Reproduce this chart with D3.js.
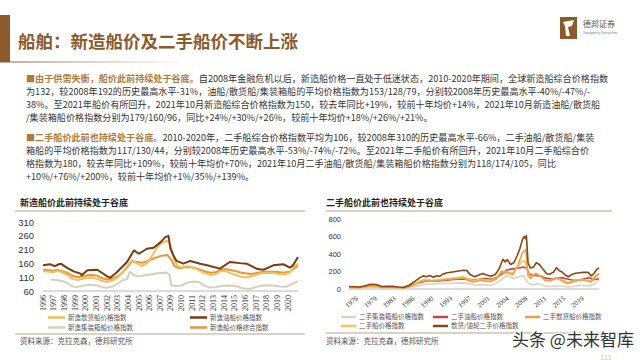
<!DOCTYPE html>
<html>
<head>
<meta charset="utf-8">
<script src="https://cdn.jsdelivr.net/npm/d3@7"></script>
<style>
  body { margin: 0; background: #fff; }
  svg { display: block; font-family: "Noto Sans CJK SC", "Noto Sans", sans-serif; }
</style>
</head>
<body>
<svg id="slide" width="640" height="360"></svg>
<script>
// ---- data: left chart (new-build price indices), [year, index]
const newBulk = [[1996.0,132],[1996.5,131],[1997.0,128],[1997.5,133],[1998.0,127],[1998.5,118],[1999.0,104],[1999.5,100],[2000.0,104],[2000.5,108],[2001.0,109],[2001.5,104],[2002.0,96],[2002.5,93],[2003.0,98],[2003.5,108],[2004.0,125],[2004.5,150],[2005.0,172],[2005.5,160],[2006.0,150],[2006.5,160],[2007.0,185],[2007.5,215],[2008.0,235],[2008.6,242],[2008.9,225],[2009.2,180],[2009.6,150],[2010.0,145],[2010.5,150],[2011.0,148],[2011.5,140],[2012.0,130],[2012.5,123],[2013.0,118],[2013.5,122],[2014.0,133],[2014.5,132],[2015.0,124],[2015.5,118],[2016.0,112],[2016.5,109],[2017.0,112],[2017.5,118],[2018.0,124],[2018.5,126],[2019.0,125],[2019.5,124],[2020.0,121],[2020.5,120],[2021.0,128],[2021.4,148],[2021.8,160]];
const newTanker = [[1996.0,153],[1996.7,157],[1997.2,150],[1997.6,157],[1997.8,159],[1998.4,145],[1999.1,131],[1999.8,123],[1999.9,117],[2000.5,135],[2001.5,137],[2002.5,113],[2002.8,108],[2003.5,129],[2004.5,165],[2005.2,207],[2005.7,195],[2006.5,213],[2007.2,217],[2007.9,237],[2008.4,256],[2008.7,259],[2008.9,213],[2009.2,189],[2009.5,169],[2010.2,159],[2010.9,169],[2011.9,159],[2012.6,153],[2013.9,141],[2014.9,165],[2015.9,161],[2016.6,159],[2017.6,141],[2018.3,137],[2019.3,153],[2020.3,157],[2021.0,145],[2021.3,153],[2021.8,183]];
const newContainer = [[1996.8,101],[1997.3,100],[1997.8,97],[1998.3,92],[1998.8,80],[1999.3,74],[1999.8,77],[2000.5,82],[2001.0,82],[2001.5,80],[2002.0,74],[2002.5,72],[2003.0,76],[2003.5,85],[2004.0,98],[2004.5,103],[2004.8,130],[2005.2,117],[2005.7,113],[2006.3,117],[2007.0,121],[2007.7,125],[2008.5,127],[2008.8,118],[2009.0,80],[2009.5,78],[2010.0,80],[2010.7,92],[2011.2,94],[2011.8,92],[2012.3,80],[2012.8,73],[2013.5,74],[2014.2,79],[2014.8,80],[2015.5,78],[2016.0,72],[2016.5,68],[2017.0,68],[2017.6,75],[2018.2,80],[2018.8,81],[2019.5,79],[2020.0,76],[2020.6,75],[2021.2,85],[2021.8,96]];
const newComposite = [[1996.0,137],[1996.5,136],[1997.0,133],[1997.5,136],[1998.0,132],[1998.5,125],[1999.0,115],[1999.5,110],[2000.0,113],[2000.5,117],[2001.0,118],[2001.5,115],[2002.0,106],[2002.5,102],[2003.0,105],[2003.5,112],[2004.0,125],[2004.5,145],[2005.0,168],[2005.5,165],[2006.0,162],[2006.5,168],[2007.0,175],[2007.5,182],[2008.0,188],[2008.6,190],[2009.0,172],[2009.3,150],[2009.8,142],[2010.5,147],[2011.0,146],[2011.5,142],[2012.0,136],[2012.5,130],[2013.0,126],[2013.5,128],[2014.0,138],[2014.5,139],[2015.0,136],[2015.5,132],[2016.0,127],[2016.5,124],[2017.0,122],[2017.5,124],[2018.0,128],[2018.5,130],[2019.0,130],[2019.5,130],[2020.0,128],[2020.5,127],[2021.0,130],[2021.4,142],[2021.8,152]];
const leftTicks = [60, 110, 160, 210, 260, 310];
const leftLabels = ["1996","1997","1998","1999","2000","2001","2002","2003","2004","2005","2006","2007","2009","2010","2011","2012","2013","2014","2015","2016","2017","2018","2019","2020"];

// ---- data: right chart (second-hand price indices)
const usedContainer = [[1976.0,15],[1980.0,20],[1984.0,15],[1986.0,10],[1988.0,30],[1990.0,55],[1992.0,60],[1995.0,65],[1997.0,70],[1999.0,45],[2001.0,50],[2002.0,40],[2003.0,70],[2004.0,110],[2005.0,157],[2006.0,120],[2007.0,140],[2008.0,150],[2008.8,70],[2009.5,45],[2010.5,60],[2011.0,55],[2012.0,30],[2013.0,28],[2014.0,35],[2015.0,35],[2016.0,22],[2017.0,28],[2018.0,40],[2019.0,40],[2020.0,35],[2021.0,60],[2021.8,105]];
const usedTanker = [[1986.0,20],[1987.0,40],[1988.0,60],[1989.0,75],[1990.0,90],[1991.0,92],[1992.0,88],[1993.0,95],[1994.0,100],[1995.0,108],[1997.0,115],[1998.0,110],[1999.0,100],[2000.0,115],[2001.0,120],[2002.0,110],[2003.0,130],[2004.0,170],[2005.0,220],[2006.0,230],[2007.0,240],[2008.0,250],[2008.6,235],[2009.0,170],[2010.0,155],[2011.0,150],[2012.0,125],[2013.0,115],[2014.0,120],[2015.0,130],[2016.0,115],[2017.0,100],[2018.0,100],[2019.0,115],[2020.0,130],[2020.8,105],[2021.8,118]];
const usedBulk = [[1976.0,18],[1978.0,15],[1980.0,35],[1981.0,33],[1982.0,18],[1984.0,20],[1986.0,12],[1987.0,25],[1988.0,50],[1989.0,80],[1990.0,95],[1991.0,90],[1992.0,92],[1993.0,100],[1995.0,115],[1997.0,125],[1998.0,90],[1999.0,80],[2000.0,100],[2001.0,90],[2002.0,85],[2003.0,115],[2004.0,200],[2004.5,180],[2005.0,190],[2006.0,160],[2007.0,280],[2007.8,420],[2008.4,450],[2008.8,150],[2009.3,120],[2010.2,180],[2011.0,150],[2012.0,95],[2013.0,95],[2014.0,130],[2015.0,95],[2016.0,60],[2017.0,80],[2018.0,100],[2019.0,105],[2020.3,80],[2021.0,140],[2021.8,174]];
const usedComposite = [[1976.0,20],[1978.0,18],[1980.0,40],[1981.0,38],[1982.0,22],[1984.0,25],[1986.0,14],[1987.0,30],[1988.0,60],[1989.0,90],[1990.0,110],[1991.0,100],[1992.0,105],[1993.0,110],[1995.0,125],[1997.0,140],[1998.0,110],[1999.0,95],[2000.0,115],[2001.0,105],[2002.0,100],[2003.0,125],[2004.0,210],[2004.5,190],[2005.0,200],[2006.0,180],[2007.0,260],[2007.8,320],[2008.3,310],[2008.8,180],[2009.3,140],[2010.2,175],[2011.0,150],[2012.0,100],[2013.0,100],[2014.0,130],[2015.0,105],[2016.0,75],[2017.0,90],[2018.0,100],[2019.0,105],[2020.3,85],[2021.0,125],[2021.8,180]];
const usedBulkTanker = [[1976.0,28],[1977.0,25],[1978.0,22],[1979.0,38],[1980.0,55],[1981.0,52],[1982.0,28],[1983.0,32],[1984.0,30],[1985.0,22],[1986.0,18],[1987.0,40],[1988.0,85],[1989.0,130],[1989.6,150],[1990.2,140],[1990.8,155],[1991.5,135],[1992.0,150],[1992.6,145],[1993.2,170],[1994.0,185],[1995.0,195],[1996.0,205],[1997.0,215],[1997.6,210],[1998.2,165],[1999.0,140],[1999.8,160],[2000.5,178],[2001.2,160],[2002.0,145],[2002.8,165],[2003.5,230],[2004.2,340],[2004.6,310],[2005.0,335],[2005.6,280],[2006.2,300],[2006.8,380],[2007.3,460],[2007.8,570],[2008.1,600],[2008.3,575],[2008.5,610],[2008.8,300],[2009.2,240],[2009.8,250],[2010.3,300],[2010.9,280],[2011.5,230],[2012.2,175],[2012.8,170],[2013.5,195],[2014.0,245],[2014.5,210],[2015.0,195],[2015.6,160],[2016.2,140],[2016.8,165],[2017.5,180],[2018.2,185],[2019.0,190],[2019.8,190],[2020.4,150],[2020.9,180],[2021.4,225],[2021.8,240]];
const rightTicks = [0, 200, 400, 600, 800];
const rightLabels = ["1976","1979","1983","1986","1990","1993","1997","2001","2004","2008","2011","2015","2019"];

// ---- text
const titleText = "船舶：新造船价及二手船价不断上涨";
const para1 = [
  ["■由于供需失衡，船价此前持续处于谷底。", "自2008年金融危机以后，新造船价格一直处于低迷状态，2010-2020年期间，全球新造船综合价格指数"],
  ["", "为132，较2008年192的历史最高水平-31%，油船/散货船/集装箱船的平均价格指数为153/128/79，分别较2008年历史最高水平-40%/-47%/-"],
  ["", "38%。至2021年船价有所回升，2021年10月新造船综合价格指数为150，较去年同比+19%，较前十年均价+14%，2021年10月新造油船/散货船"],
  ["", "/集装箱船价格指数分别为179/160/96，同比+24%/+30%/+26%，较前十年均价+18%/+26%/+21%。"]
];
const para2 = [
  ["■二手船价此前也持续处于谷底。", "2010-2020年，二手船综合价格指数平均为106，较2008年310的历史最高水平-66%，二手油船/散货船/集装"],
  ["", "箱船的平均价格指数为117/130/44，分别较2008年历史最高水平-53%/-74%/-72%。至2021年二手船价有所回升，2021年10月二手船综合价"],
  ["", "格指数为180，较去年同比+109%，较前十年均价+70%，2021年10月二手油船/散货船/集装箱船价格指数分别为118/174/105，同比"],
  ["", "+10%/+76%/+200%，较前十年均价+1%/35%/+139%。"]
];

const brown = "#8d5a2b";
const svg = d3.select("#slide");

// ---- header
const grad = svg.append("defs").append("linearGradient").attr("id", "fade");
grad.append("stop").attr("offset", "0%").attr("stop-color", "#bfae98");
grad.append("stop").attr("offset", "100%").attr("stop-color", "#ffffff");
svg.append("rect").attr("x", 0).attr("y", 61).attr("width", 190).attr("height", 2).attr("fill", "url(#fade)");
svg.append("rect").attr("x", 0).attr("y", 15).attr("width", 10).attr("height", 47).attr("fill", brown);
svg.append("text").attr("x", 18).attr("y", 48)
  .attr("font-size", 17.5).attr("font-weight", "bold").attr("fill", brown)
  .text(titleText);

// logo
const logo = svg.append("g").attr("transform", "translate(560,17)");
logo.append("rect").attr("width", 17).attr("height", 22).attr("fill", brown);
logo.append("path").attr("d", "M3,5 L14,3 L12,9 L8,10 L10,19 L6,19 L5,9 Z").attr("fill", "#fff");
logo.append("text").attr("x", 23).attr("y", 10).attr("font-size", 8).attr("fill", "#555").text("德邦证券");
logo.append("text").attr("x", 23).attr("y", 17).attr("font-size", 3.5).attr("fill", "#777").text("Topsperity Securities");

// ---- paragraphs
function drawPara(lines, y0) {
  lines.forEach((ln, i) => {
    const t = svg.append("text").attr("x", 26).attr("y", y0 + i * 13)
      .attr("font-size", 9.1).attr("fill", "#333");
    if (ln[0]) t.append("tspan").attr("fill", "#b07a38").attr("font-weight", "bold").text(ln[0]);
    t.append("tspan").text(ln[1]);
  });
}
drawPara(para1, 81.5);
drawPara(para2, 140.5);

// ---- chart helper
function drawChart(cfg) {
  const g = svg.append("g");
  g.append("text").attr("x", cfg.titleX).attr("y", 206)
    .attr("font-size", 9).attr("font-weight", "bold").attr("fill", "#222").text(cfg.title);
  g.append("line").attr("x1", cfg.ruleX[0]).attr("x2", cfg.ruleX[1]).attr("y1", 211).attr("y2", 211)
    .attr("stroke", "#b3a68c").attr("stroke-width", 1.2);
  g.append("line").attr("x1", cfg.ruleX[0]).attr("x2", cfg.ruleX[1]).attr("y1", cfg.bottomY).attr("y2", cfg.bottomY)
    .attr("stroke", "#b3a68c").attr("stroke-width", 1.2);
  g.append("text").attr("x", cfg.titleX).attr("y", 344)
    .attr("font-size", 7.5).attr("fill", "#555").text("资料来源：克拉克森，德邦研究所");

  const x = d3.scaleLinear().domain(cfg.xDomain).range(cfg.xRange);
  const y = d3.scaleLinear().domain(cfg.yDomain).range(cfg.yRange);

  g.append("g").attr("transform", `translate(${cfg.yLabelX},0)`)
    .call(d3.axisLeft(y).tickValues(cfg.ticks).tickSize(0).tickPadding(0))
    .call(a => a.select(".domain").remove())
    .selectAll("text").attr("font-family", "Liberation Sans, Arial, sans-serif")
    .attr("font-size", cfg.tickFont).attr("fill", "#333");

  g.append("line").attr("x1", cfg.xRange[0]).attr("x2", cfg.xRange[1])
    .attr("y1", y(cfg.yDomain[0])).attr("y2", y(cfg.yDomain[0]))
    .attr("stroke", "#cfcfcf").attr("stroke-width", 1.5);

  const xl = d3.scalePoint().domain(cfg.labels).range(cfg.labelRange);
  g.selectAll(".xl").data(cfg.labels).join("text")
    .attr("class", "xl")
    .attr("transform", d => `translate(${xl(d)},${cfg.labelY}) rotate(${cfg.labelRot})`)
    .attr("text-anchor", "end").attr("dy", cfg.labelDy)
    .attr("font-family", "Liberation Serif, serif").attr("font-size", cfg.labelFont).attr("fill", "#333")
    .text(d => d);

  const line = d3.line().x(d => x(d[0])).y(d => y(d[1]));
  g.selectAll(".series").data(cfg.series).join("path")
    .attr("class", "series")
    .attr("d", d => line(d.values))
    .attr("fill", "none").attr("stroke", d => d.color)
    .attr("stroke-width", cfg.lineWidth).attr("stroke-linejoin", "round");

  const lg = g.selectAll(".lg").data(cfg.legend).join("g")
    .attr("class", "lg").attr("transform", d => `translate(${d.x},${d.y})`);
  lg.append("line").attr("x1", 0).attr("x2", cfg.legLen).attr("stroke", d => d.color).attr("stroke-width", 2.5);
  lg.append("text").attr("x", cfg.legLen + 3).attr("dy", "0.35em")
    .attr("font-size", 6.5).attr("fill", "#555").text(d => d.name);
}

const leftColors = { bulk: "#f2bf58", tanker: "#7a3a12", container: "#d8cfbb", composite: "#eb9535" };
drawChart({
  title: "新造船价此前持续处于谷底", titleX: 20, ruleX: [15, 305], bottomY: 334,
  xDomain: [1996, 2021.8], xRange: [43, 298],
  yDomain: [60, 310], yRange: [291, 222], ticks: leftTicks, yLabelX: 34, tickFont: 9.5,
  labels: leftLabels, labelRange: [43, 288], labelY: 295, labelRot: -90, labelDy: "0.33em", labelFont: 8,
  lineWidth: 2,
  series: [
    { values: newContainer, color: leftColors.container },
    { values: newComposite, color: leftColors.composite },
    { values: newBulk, color: leftColors.bulk },
    { values: newTanker, color: leftColors.tanker }
  ],
  legLen: 17,
  legend: [
    { name: "新造散货船价格指数", color: leftColors.bulk, x: 48, y: 317.5 },
    { name: "新造油船价格指数", color: leftColors.tanker, x: 190, y: 317.5 },
    { name: "新造集装箱船价格指数", color: leftColors.container, x: 48, y: 327.5 },
    { name: "新造船价格综合指数", color: leftColors.composite, x: 190, y: 327.5 }
  ]
});

const rightColors = { container: "#ddd3bf", tanker: "#c9424c", bulk: "#f0a042", composite: "#f6c656", bulkTanker: "#8b4513" };
drawChart({
  title: "二手船价此前也持续处于谷底", titleX: 326, ruleX: [326, 612], bottomY: 333,
  xDomain: [1976, 2021.8], xRange: [349, 599],
  yDomain: [0, 800], yRange: [289, 219], ticks: rightTicks, yLabelX: 341, tickFont: 7.5,
  labels: rightLabels, labelRange: [356, 582], labelY: 296, labelRot: -38, labelDy: "0.6em", labelFont: 7,
  lineWidth: 1.6,
  series: [
    { values: usedContainer, color: rightColors.container },
    { values: usedTanker, color: rightColors.tanker },
    { values: usedComposite, color: rightColors.composite },
    { values: usedBulk, color: rightColors.bulk },
    { values: usedBulkTanker, color: rightColors.bulkTanker }
  ],
  legLen: 15,
  legend: [
    { name: "二手集装箱船价格指数", color: rightColors.container, x: 341, y: 317 },
    { name: "二手油船价格指数", color: rightColors.tanker, x: 433, y: 317 },
    { name: "二手散货船价格指数", color: rightColors.bulk, x: 525, y: 317 },
    { name: "二手船价格指数", color: rightColors.composite, x: 341, y: 326 },
    { name: "散货/油轮二手价格指数", color: rightColors.bulkTanker, x: 433, y: 326 }
  ]
});

// ---- watermark and page number
svg.append("text").attr("x", 600).attr("y", 359.5).attr("font-size", 7).attr("fill", "#c8c8c8").text("121");
svg.append("text").attr("x", 512).attr("y", 346)
  .attr("font-size", 17).attr("fill", "#333").attr("stroke", "#fff").attr("stroke-width", 2.5)
  .attr("paint-order", "stroke").text("头条 @未来智库");
</script>
</body>
</html>
